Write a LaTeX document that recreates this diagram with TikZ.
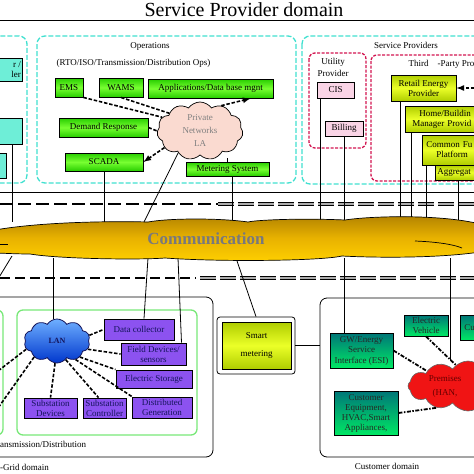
\documentclass[tikz,border=0pt]{standalone}
\usepackage{fontspec}
\setmainfont{Liberation Serif}
\usetikzlibrary{shapes.symbols}

\definecolor{cyanbd}{RGB}{64,224,208}
\definecolor{crim}{RGB}{210,20,80}
\definecolor{aqua}{RGB}{110,238,215}
\definecolor{grnD}{RGB}{40,205,0}
\definecolor{grnL}{RGB}{120,255,50}
\definecolor{ygD}{RGB}{175,205,0}
\definecolor{ygL}{RGB}{235,255,40}
\definecolor{pinkbox}{RGB}{250,212,230}
\definecolor{pinkc}{RGB}{250,218,208}
\definecolor{purp}{RGB}{140,82,240}
\definecolor{navy}{RGB}{20,20,90}
\definecolor{tealD}{RGB}{0,118,120}
\definecolor{tealL}{RGB}{0,232,100}
\definecolor{ltgreen}{RGB}{120,232,120}
\definecolor{lanL}{RGB}{110,175,255}
\definecolor{lanD}{RGB}{0,55,205}
\definecolor{hanred}{RGB}{240,20,20}
\definecolor{goldT}{RGB}{176,128,0}
\definecolor{goldM}{RGB}{232,178,0}
\definecolor{goldB}{RGB}{255,208,0}
\definecolor{commtext}{RGB}{120,120,125}

\begin{document}
\begin{tikzpicture}[
    x=1pt, y=-1pt, >=latex,
    every node/.style={font=\fontsize{9}{10}\selectfont},
    sz/.style 2 args={minimum width=#1pt, minimum height=#2pt},
    boxbase/.style={draw, line width=0.9pt, align=center, inner sep=1pt},
    cbox/.style={boxbase, fill=aqua},
    gbox/.style={boxbase, top color=grnD, bottom color=grnD, middle color=grnL},
    ygbox/.style={boxbase, top color=ygD, bottom color=ygD, middle color=ygL},
    pkbox/.style={boxbase, fill=pinkbox},
    pbox/.style={boxbase, fill=purp, text=navy},
    tbox/.style={boxbase, top color=tealD, bottom color=tealL, text=black!85},
    dashframe/.style={rounded corners=8pt, line width=1.3pt, draw=cyanbd, dash pattern=on 5pt off 2pt},
    redframe/.style={rounded corners=6pt, line width=1.3pt, draw=crim, dash pattern=on 3pt off 1.5pt},
    domainbox/.style={draw, rounded corners=7pt, line width=0.8pt},
    tdframe/.style={draw=ltgreen, rounded corners=6pt, line width=1.3pt},
    wire/.style={line width=0.8pt},
    netlink/.style={line width=1.6pt, dash pattern=on 3.5pt off 1.8pt},
    hanlink/.style={line width=1.8pt, dash pattern=on 4pt off 1.5pt on 1.5pt off 1.5pt},
    blkdash/.style={line width=2.4pt, dash pattern=on 13pt off 5pt},
    greydash/.style={line width=0.6pt, double=gray!65, double distance=2.6pt, dash pattern=on 16pt off 4pt},
    pcloud/.style={cloud, cloud puffs=11, cloud puff arc=110, cloud ignores aspect, draw, line width=0.7pt,
        fill=pinkc, text=gray, align=center, inner sep=0pt, font=\fontsize{9}{13}\selectfont},
    lancloud/.style={cloud, cloud puffs=10, cloud puff arc=115, cloud ignores aspect, draw=navy, line width=0.8pt,
        top color=lanL, bottom color=lanD, text=navy, font=\bfseries\fontsize{8}{9}\selectfont},
    hancloud/.style={cloud, cloud puffs=12, cloud puff arc=110, cloud ignores aspect, draw=black!60,
        line width=0.6pt, fill=hanred}
]

\useasboundingbox (0,0) rectangle (474,474);
\clip (0,0) rectangle (474,474);

% Title and upper border
\node[font=\fontsize{20}{22}\selectfont] (title) at (244,10) {Service Provider domain};
\draw[wire] (0,20) -- (474,20);

% Upper frames
\draw[dashframe] (-40,36) rectangle (27,183);
\draw[dashframe] (37,36) rectangle (296,183);
\draw[dashframe] (302,36) rectangle (520,184);
\draw[redframe]  (309,53) rectangle (366,148);
\draw[redframe]  (371,55) rectangle (520,181);

% Left partial column
\node[cbox, sz={52}{23}] (lbox1) at (-4,69.5) {};
\node[anchor=east, align=right, inner sep=1pt] (lbl1) at (22,69.5) {r /\\ler};
\node[cbox, sz={52}{26}] (lbox2) at (-4,131) {};
\node[cbox, sz={36}{25}] (lbox3) at (-12,165.5) {};

% Operations
\node (opslbl) at (150,46) {Operations};
\node (opssub) at (133.5,63) {(RTO/ISO/Transmission/Distribution Ops)};
\node[gbox, sz={28}{19}]  (ems)   at (69,87.5)    {EMS};
\node[gbox, sz={44}{19}]  (wams)  at (121,87.5)   {WAMS};
\node[gbox, sz={125}{19}] (apps)  at (210.5,88.5) {Applications/Data base mgnt};
\node[gbox, sz={89}{19}]  (dr)    at (103.5,127.5) {Demand Response};
\node[gbox, sz={78}{18}]  (scada) at (104,162)    {SCADA};
\node[pcloud, sz={86}{58}] (pnet) at (200,131)    {Private\\Networks\\LA};
\node[gbox, sz={83}{14}]  (meter) at (227.5,169)  {Metering System};

% Links to the private network
\draw[netlink] (ems.south east) -- (pnet.160);
\draw[netlink] (wams.south) -- (pnet.150);
\draw[netlink] (dr.east) -- (pnet.west);
\draw[netlink,->] (pnet.205) -- (scada.east);
\draw[netlink,->] (pnet.50) -- ([xshift=-23pt]apps.south east);
\draw[netlink] (meter.north) -- (meter.north |- pnet.300);

% Service providers
\node (splbl) at (406,45) {Service Providers};
\node[align=center, font=\fontsize{9}{12}\selectfont] (utlbl) at (333,67) {Utility\\Provider};
\node[pkbox, sz={37}{16}] (cis)     at (335.5,90)  {CIS};
\node[pkbox, sz={38}{15}] (billing) at (344,128.5) {Billing};
\node[anchor=west] (tplbl) at (405,64) {Third\quad-Party Pro};
\node[ygbox, sz={65}{26}] (retail) at (423.5,88) {Retail Energy\\Provider};
\node[ygbox, anchor=west, text width=100pt, align=left, inner xsep=7pt, minimum height=26pt]
    (home) at (405,119) {\hspace*{7pt}Home/Buildin\\Manager Provid};
\node[ygbox, anchor=west, text width=100pt, align=left, inner xsep=4pt, minimum height=30pt]
    (common) at (422,150) {Common Fu\\\hspace*{10pt}Platform};
\node[ygbox, anchor=west, text width=100pt, align=left, inner xsep=2pt, minimum height=15pt]
    (aggreg) at (435,172.5) {Aggregat};
\coordinate (rtsrc) at (480,88);
\draw[netlink,->] (rtsrc) -- (retail.east);

% Bus lines
\draw[wire] (0,192) -- (474,192);
\draw[blkdash]  (0,204) -- (218,204);
\draw[greydash] (218,204) -- (474,204);
\draw[blkdash, dash pattern=on 10pt off 5pt] (0,278) -- (196,278);
\draw[greydash] (200,278) -- (474,278);

% Transmission / distribution
\draw[domainbox] (-20,297) rectangle (213,457);
\draw[tdframe] (17,310) rectangle (197,435);
\draw[tdframe] (-40,310) rectangle (3,435);
\node[anchor=west, inner sep=0pt] (tdlbl) at (0,444) {ansmission/Distribution};
\node[anchor=west, inner sep=0pt] (gridlbl) at (0,467) {-Grid domain};

\node[lancloud, sz={66}{44}] (lan) at (57,341) {LAN};
\node[pbox, sz={70}{21}] (dc) at (139,329.5) {Data collector};
\node[pbox, sz={65}{22}] (fd) at (153.5,354) {Field Devices/\\sensors};
\node[pbox, sz={76}{18}] (es) at (154,379) {Electric Storage};
\node[pbox, sz={60}{21}] (dg) at (162,407.5) {Distributed\\Generation};
\node[pbox, sz={53}{20}] (sd) at (50.5,408) {Substation\\Devices};
\node[pbox, sz={43}{20}] (sc) at (104.5,408) {Substation\\Controller};

\coordinate (lnk1) at (-2,371);
\coordinate (lnk2) at (-2,408);
\draw[netlink] (lan.10) -- (dc.west);
\draw[netlink] (lan.-15) -- (fd.west);
\draw[netlink] (lan.-35) -- (es.north west);
\draw[netlink] (lan.-45) -- (dg.160);
\draw[netlink] (lan.-65) -- ([xshift=-6pt]sc.north);
\draw[netlink] (lan.-95) -- (sd.north);
\draw[netlink] (lan.195) -- (lnk1);
\draw[netlink] (lan.215) -- (lnk2);

% Smart metering
\node[draw, rounded corners=3pt, line width=0.8pt, sz={78}{57}] (smartout) at (256,345.5) {};
\node[ygbox, sz={69}{47}] (smart) at (256.5,345.5) {Smart\\[8pt]metering};

% Customer domain
\node[domainbox, sz={200}{159}] (custdom) at (420,377.5) {};
\node (custlbl) at (387,466) {Customer domain};
\node[tbox, sz={63}{35}, font=\fontsize{9}{10.5}\selectfont] (gw) at (361.5,350.5) {GW/Energy\\Service\\Interface (ESI)};
\node[tbox, sz={44}{21}] (ev) at (426,325.5) {Electric\\Vehicle};
\node[tbox, anchor=west, text width=52pt, align=left, inner xsep=4pt, minimum height=25pt] (cubox) at (460,327.5) {Cu};
\node[tbox, sz={64}{44}] (ce) at (366,413) {Customer\\Equipment,\\HVAC,Smart\\Appliances,};
\node[hancloud, sz={120}{50}] (han) at (468,386) {};
\node[text=red!40!black, align=center, font=\fontsize{9}{14}\selectfont] (hanlbl) at (445,386) {Premises\\(HAN,};

\draw[hanlink] (gw.east) -- (han.160);
\draw[hanlink] (ev.south) -- (han.120);
\draw[hanlink] (ce.east) -- (han.215);
\draw[wire] (smartout.east) -- (smartout.east -| custdom.west);

% Drops to the communication band
\coordinate (ctop) at (0,222);
\coordinate (cbot) at (0,258);
\coordinate (w1) at ([xshift=16pt]lbox2.south);
\coordinate (w2) at ([xshift=5pt]meter.south);
\coordinate (w3) at ([xshift=-15pt]cis.south);
\coordinate (w4) at ([xshift=-23.5pt]retail.south);
\coordinate (w5) at ([xshift=6pt]home.south west);
\coordinate (w6) at ([xshift=4pt]common.south west);
\coordinate (w7) at ([xshift=23pt]aggreg.south west);
\coordinate (pnetdrop) at (144,222);
\draw[wire] (w1) -- (w1 |- ctop);
\draw[wire] (scada.south) -- (scada.south |- ctop);
\draw[wire] (pnet.225) -- (pnetdrop);
\draw[wire] (w2) -- (w2 |- ctop);
\draw[wire] (w3) -- (w3 |- ctop);
\draw[wire] (billing.south) -- (billing.south |- ctop);
\draw[wire] (w4) -- (w4 |- ctop);
\draw[wire] (w5) -- (w5 |- ctop);
\draw[wire] (w6) -- (w6 |- ctop);
\draw[wire] (w7) -- (w7 |- ctop);

\coordinate (d1) at ([xshift=5pt]dc.north);
\coordinate (d2) at ([xshift=28pt]fd.north);
\coordinate (d3) at ([xshift=-17.5pt]gw.north);
\coordinate (d4) at ([xshift=-18pt]han.north);
\coordinate (dctop) at (148,258);
\coordinate (fdtop) at (178,258);
\coordinate (smtop) at (236,258);
\coordinate (ld1) at (12,256);
\coordinate (ld2) at (-2,279);
\draw[wire] (lan.100) -- (lan.100 |- cbot);
\draw[wire] (d1) -- (dctop);
\draw[wire] (d2) -- (fdtop);
\draw[wire] (smartout.north) -- (smtop);
\draw[wire] (d3) -- (d3 |- cbot);
\draw[wire] (d4) -- (d4 |- cbot);
\draw[wire] (ld1) -- (ld2);

% Communication band
\shadedraw[top color=goldT, bottom color=goldB, middle color=goldM, draw=black, line width=0.7pt]
    (-5,230) .. controls (40,222) and (110,221) .. (148,222)
    .. controls (170,218) and (220,218) .. (248,222)
    .. controls (256,220) and (300,218) .. (345,220)
    .. controls (370,216) and (440,214) .. (480,224)
    -- (480,252)
    .. controls (440,258) and (380,258) .. (342,256)
    .. controls (320,261) and (220,262) .. (165,258)
    .. controls (140,260) and (60,259) .. (30,254)
    .. controls (15,254) and (0,253) .. (-5,253) -- cycle;
\draw[line width=0.7pt] (415,241) .. controls (440,242) and (455,245) .. (462,248);
\draw[line width=0.7pt] (-5,244) -- (8,244);
\node[font=\bfseries\fontsize{17}{19}\selectfont, text=commtext] (comm) at (206,239) {Communication};

\end{tikzpicture}
\end{document}
